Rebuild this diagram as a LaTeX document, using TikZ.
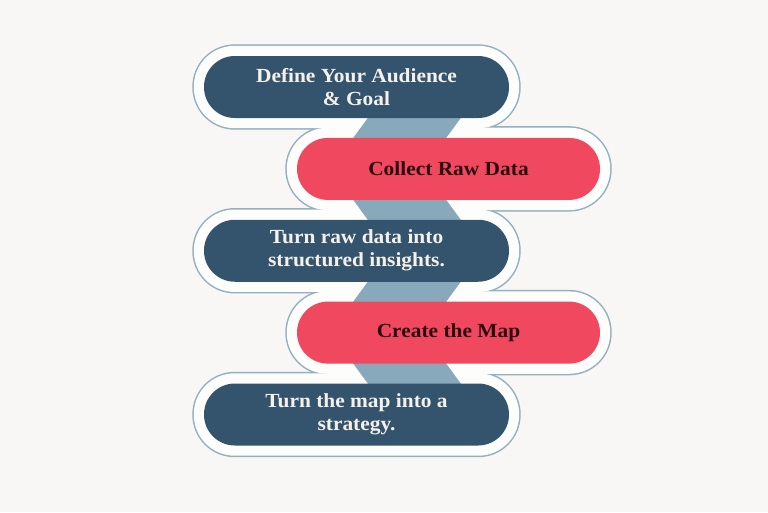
\documentclass[tikz,border=0pt]{standalone}
\usepackage{fontspec}
\setmainfont[FakeStretch=1.07]{Liberation Serif}
\definecolor{bg}{HTML}{F8F7F5}
\definecolor{navy}{HTML}{34536D}
\definecolor{coral}{HTML}{F0495F}
\definecolor{bandc}{HTML}{88A9BB}
\definecolor{rim}{HTML}{93B0C1}
\definecolor{inner}{HTML}{FDFDFC}
\definecolor{lighttext}{HTML}{F4F1EB}
\definecolor{darktext}{HTML}{2A0A10}
\pgfdeclarelayer{back}
\pgfdeclarelayer{mid}
\pgfsetlayers{back,mid,main}
\begin{document}
\begin{tikzpicture}[x=1pt,y=-1pt,
 pill/.style={rectangle, rounded corners=30.9pt, minimum width=305pt, minimum height=62pt, inner sep=0pt, align=center, font=\fontsize{20}{23}\selectfont\bfseries},
 darkpill/.style={pill, fill=navy, text=lighttext},
 redpill/.style={pill, fill=coral, text=darktext, minimum width=303pt},
 rimline/.style={draw=rim, line width=3pt, rounded corners=40.9pt},
 rimfill/.style={fill=inner, rounded corners=40.9pt},
 bandline/.style={draw=bandc, line width=75pt, line join=round}]
\useasboundingbox (0,0) rectangle (768,512);
\node[darkpill] (p1) at (356.5,87) {Define Your Audience\\\& Goal};
\node[redpill] (p2) at (448.5,168.9) {Collect Raw Data};
\node[darkpill] (p3) at (356.5,250.75) {Turn raw data into\\structured insights.};
\node[redpill] (p4) at (448.5,332.6) {Create the Map};
\node[darkpill] (p5) at (356.5,414.5) {Turn the map into a\\strategy.};
\begin{pgfonlayer}{back}
\fill[bg] (0,0) rectangle (768,512);
\foreach \p in {p1,p2,p3,p4,p5}
  \draw[rimline] ([xshift=-10pt,yshift=10pt]\p.north west) rectangle ([xshift=10pt,yshift=-10pt]\p.south east);
\foreach \p in {p1,p2,p3,p4,p5}
  \fill[rimfill] ([xshift=-10pt,yshift=10pt]\p.north west) rectangle ([xshift=10pt,yshift=-10pt]\p.south east);
\end{pgfonlayer}
\begin{pgfonlayer}{mid}
\draw[bandline] ([xshift=80.5pt]p1.center) -- ([xshift=-71.5pt]p2.center) -- ([xshift=80.5pt]p3.center) -- ([xshift=-71.5pt]p4.center) -- ([xshift=80.5pt]p5.center);
\end{pgfonlayer}
\end{tikzpicture}
\end{document}
